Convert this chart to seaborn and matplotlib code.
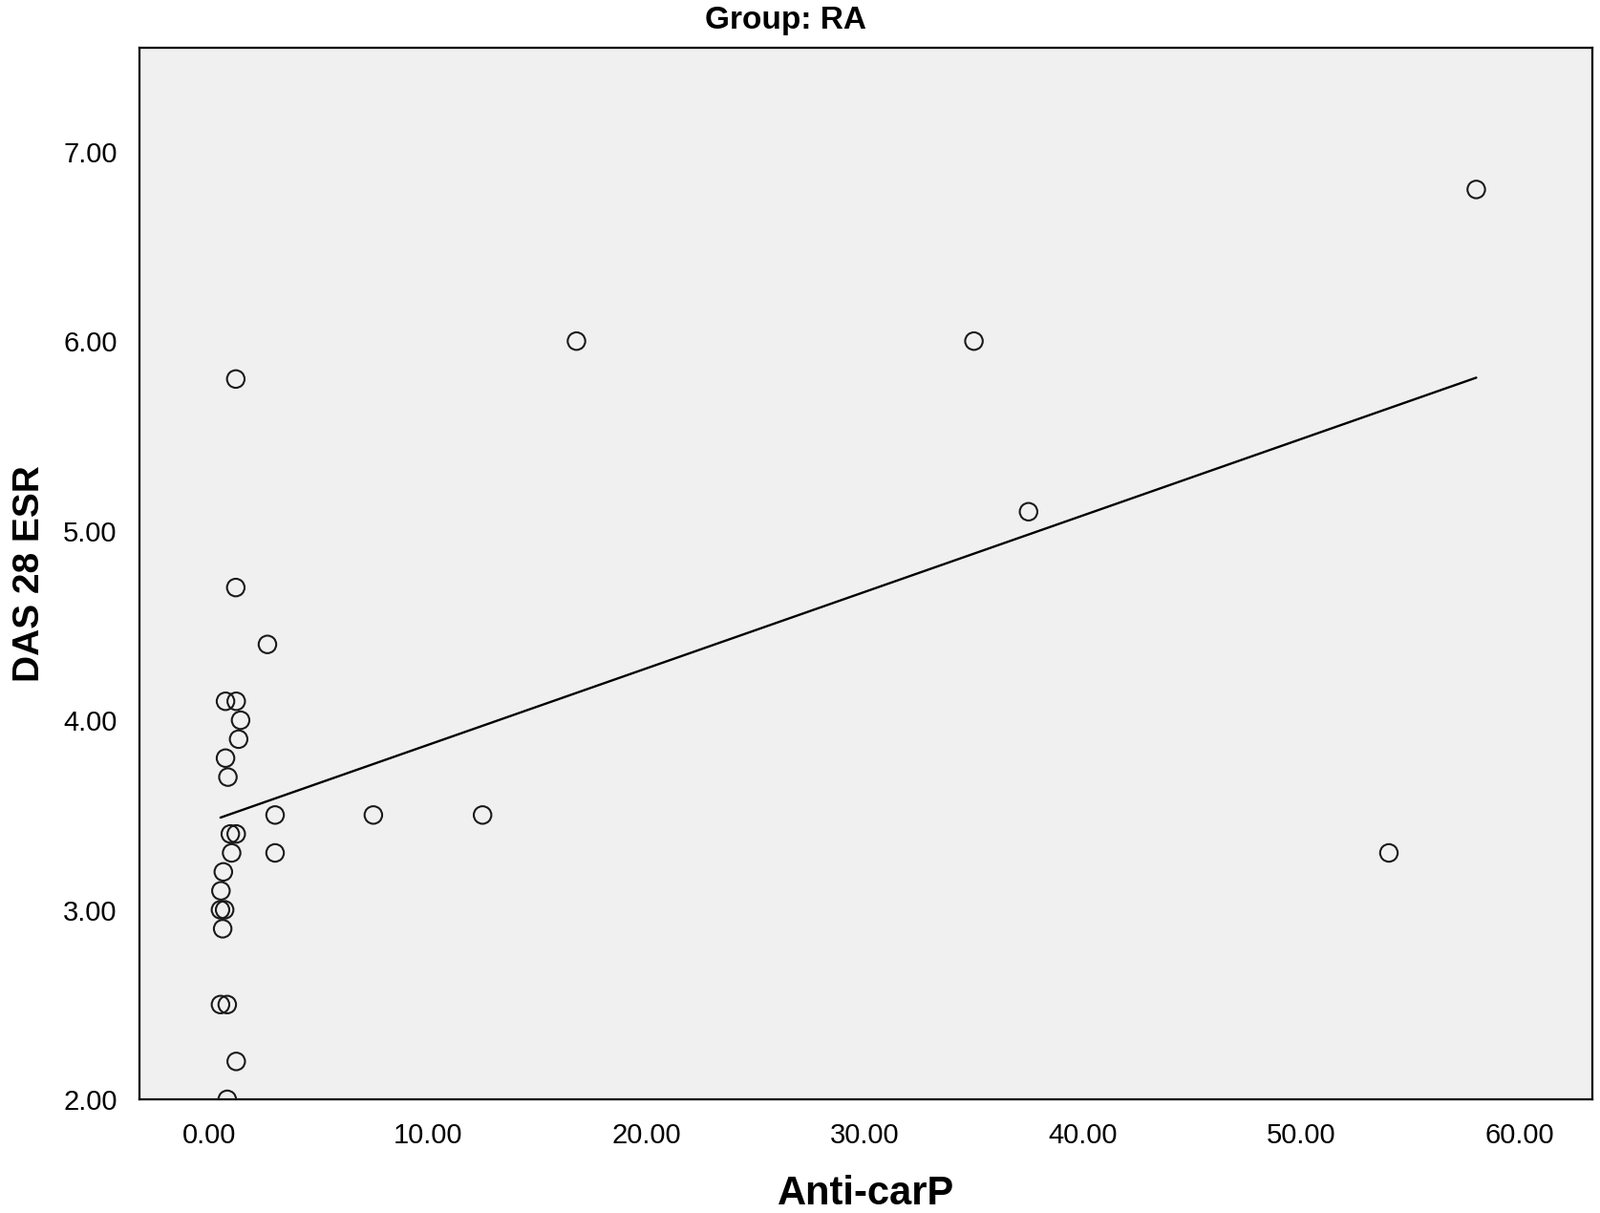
import matplotlib
matplotlib.use("Agg")
import matplotlib.pyplot as plt
import seaborn as sns
import pandas as pd
from matplotlib.ticker import FormatStrFormatter

# Data
anti_carp = [58.0, 16.8, 35.0, 37.5, 54.0, 12.5, 7.5, 3.0, 3.0, 2.65,
             1.2, 1.2, 0.73, 1.22, 1.42, 1.33, 0.73, 0.84, 0.95, 1.22,
             1.01, 0.63, 0.52, 0.5, 0.69, 0.6, 0.5, 0.81, 1.22, 0.81]
das28_esr = [6.8, 6.0, 6.0, 5.1, 3.3, 3.5, 3.5, 3.5, 3.3, 4.4,
             5.8, 4.7, 4.1, 4.1, 4.0, 3.9, 3.8, 3.7, 3.4, 3.4,
             3.3, 3.2, 3.1, 3.0, 3.0, 2.9, 2.5, 2.5, 2.2, 2.0]
x_ticks = [0, 10, 20, 30, 40, 50, 60]
y_ticks = [2, 3, 4, 5, 6, 7]
title = "Group: RA"
x_label = "Anti-carP"
y_label = "DAS 28 ESR"

df = pd.DataFrame({"Anti-carP": anti_carp, "DAS 28 ESR": das28_esr})

sns.set_style("white")
plt.rcParams["font.family"] = ["Liberation Sans", "DejaVu Sans"]
plt.rcParams["text.color"] = "black"
plt.rcParams["axes.labelcolor"] = "black"

fig = plt.figure(figsize=(16.75, 12.7), dpi=100)
ax = fig.add_axes([0.0873, 0.0937, 0.9077, 0.8673])
ax.set_facecolor("#F0F0F0")

sns.regplot(data=df, x="Anti-carP", y="DAS 28 ESR", ax=ax, scatter=False,
            ci=None, color="black", line_kws={"linewidth": 1.7})
sns.scatterplot(data=df, x="Anti-carP", y="DAS 28 ESR", ax=ax, marker="o",
                s=175, facecolors="none", edgecolor="#1a1a1a", linewidth=1.5,
                zorder=3)

ax.set_xlim(-3.2, 63.3)
ax.set_ylim(2.0, 7.55)
ax.set_xticks(x_ticks)
ax.set_yticks(y_ticks)
ax.xaxis.set_major_formatter(FormatStrFormatter("%.2f"))
ax.yaxis.set_major_formatter(FormatStrFormatter("%.2f"))
ax.tick_params(axis="both", direction="out", length=12, width=1.5,
               color="#555555", labelsize=21, labelcolor="black", pad=5)

for sp in ax.spines.values():
    sp.set_visible(True)
    sp.set_color("black")
    sp.set_linewidth(1.6)

ax.set_xlabel(x_label, fontsize=30, fontweight="bold", labelpad=20)
ax.set_ylabel(y_label, fontsize=28, fontweight="bold", labelpad=12)
fig.text(0.491, 0.976, title, fontsize=24, fontweight="bold",
         ha="center", va="baseline")

fig.savefig("out.png", dpi=100)
